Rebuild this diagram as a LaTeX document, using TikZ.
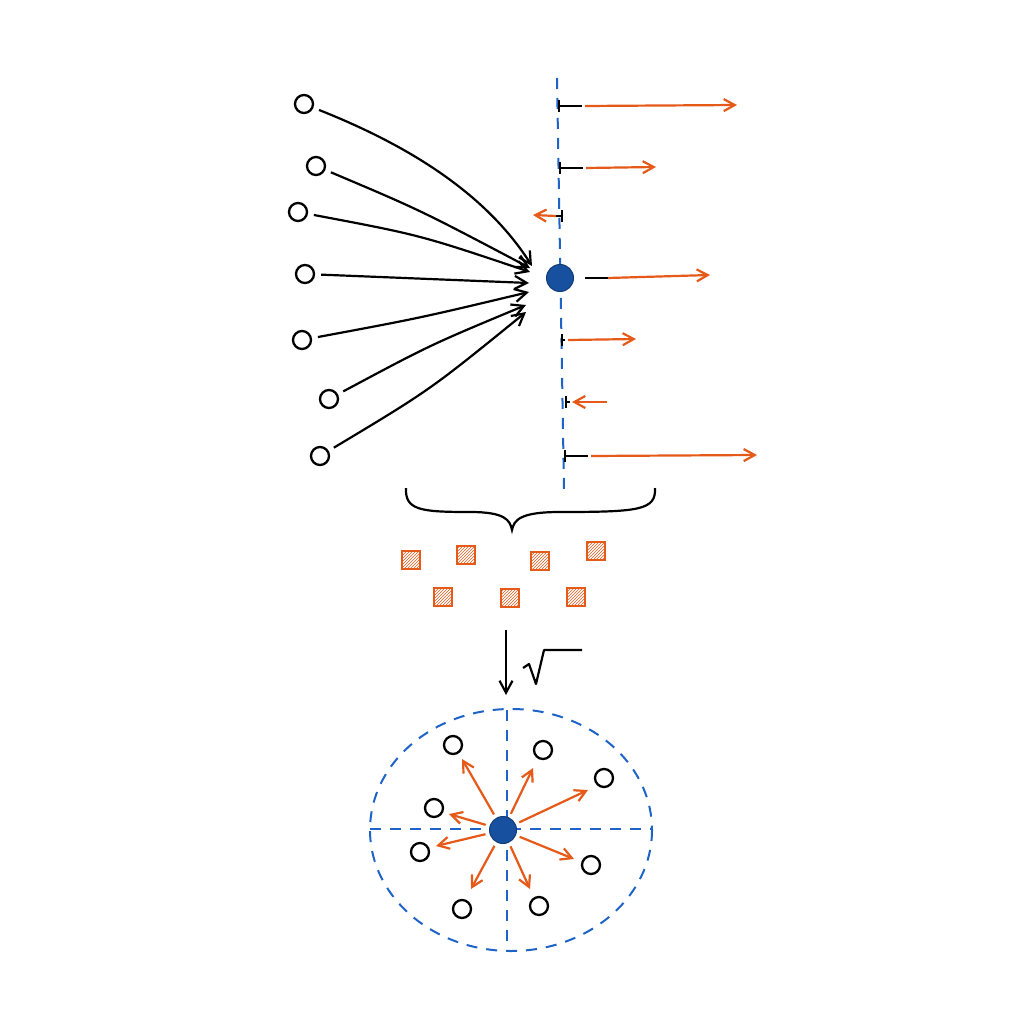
\documentclass[tikz,border=0pt]{standalone}
\usetikzlibrary{arrows.meta,patterns,decorations.pathreplacing}
\begin{document}
\begin{tikzpicture}[x=1pt,y=-1pt,
  hol/.style={circle,draw=black,line width=2.3pt,minimum size=18pt,inner sep=0},
  bdot/.style={circle,draw=bluec!60!black,line width=1pt,minimum size=27pt,inner sep=0},
  blk/.style={-{Straight Barb[length=12pt,width=13pt]},line width=2.2pt,shorten <=6pt},
  org/.style={-{Straight Barb[length=11pt,width=12pt]},line width=2.2pt,draw=orangec},
  tk/.style={line width=2.2pt},
  dsh/.style={draw=bluec,line width=2pt,dash pattern=on 11pt off 9pt},
  sq/.style={draw=orangec,line width=2pt,pattern=north east lines,pattern color=orangec,minimum size=18pt,inner sep=0}]
\definecolor{orangec}{RGB}{230,90,25}
\definecolor{bluec}{RGB}{30,100,200}
\useasboundingbox (0,0) rectangle (1024,1024);
\fill[white] (0,0) rectangle (1024,1024);
% top part
\draw[dsh] (557,78) -- (564,490);
\node[bdot,fill=bluec!80!black] (B) at (560,278) {};
\foreach \n/\x/\y in {a/304/104,b/316/166,c/298/212,d/305/274,e/302/340,f/329/399,g/320/456}
  \node[hol] (\n) at (\x,\y) {};
\coordinate (ta) at (532,266);\coordinate (tb) at (530,268);\coordinate (tc) at (530,272);
\coordinate (td) at (529,283);\coordinate (te) at (529,292);\coordinate (tf) at (526,305);\coordinate (tg) at (526,312);
\draw[blk] (a) .. controls (420,150) and (490,200) .. (ta);
\draw[blk] (b) .. controls (420,210) .. (tb);
\draw[blk] (c) .. controls (420,235) .. (tc);
\draw[blk] (d) -- (td);
\draw[blk] (e) .. controls (420,318) .. (te);
\draw[blk] (f) .. controls (430,345) .. (tf);
\draw[blk] (g) .. controls (430,390) .. (tg);
% ticks and orange arrows
\foreach \y/\xa/\xb/\xe in {106/559/582/737,168/560/583/656,340/562/565/636,456/565/588/757}{
  \draw[tk] (\xa,\y-6) -- (\xa,\y+6);
  \draw[tk] (\xa,\y) -- (\xb,\y);
  \coordinate (s\y) at (\xb+3,\y); \coordinate (e\y) at (\xe,\y-1);
  \draw[org] (s\y) -- (e\y);}
\draw[tk] (562,210) -- (562,222); \draw[tk] (556,216)--(562,216);
\coordinate (s216) at (556,216);\coordinate (e216) at (533,215);\draw[org] (s216) -- (e216);
\draw[tk] (566,396) -- (566,408); \draw[tk] (566,402)--(570,402);
\coordinate (s402) at (607,402);\coordinate (e402) at (572,402);\draw[org] (s402) -- (e402);
\coordinate (s278) at (585,278);\coordinate (m278) at (608,278);\coordinate (e278) at (710,275);
\draw[tk] (s278) -- (m278); \draw[org] (m278) -- (e278);
% brace
\draw[line width=2.2pt] (406,488) .. controls (405,510) and (420,512) .. (470,512) .. controls (505,512) and (510,520) .. (512,530)
  .. controls (514,520) and (520,512) .. (560,512) .. controls (640,512) and (656,510) .. (655,488);
% squares
\foreach \n/\x/\y in {q1/411/560,q2/466/555,q3/540/561,q4/596/551,q5/443/597,q6/510/598,q7/576/597}
  \node[sq] (\n) at (\x,\y) {};
\coordinate (d1) at (506,630);\coordinate (d2) at (506,695);
\draw[blk,shorten <=0pt] (d1) -- (d2);
\draw[line width=2.2pt,line join=round] (523,668) -- (529,664) -- (536,684) -- (544,650) -- (582,650);
% bottom circle
\draw[dsh] (511,830) circle[x radius=141,y radius=121];
\draw[dsh] (370,829) -- (652,829);
\draw[dsh] (507,710) -- (507,950);
\node[bdot,fill=bluec!80!black] (C) at (503,830) {};
\foreach \n/\x/\y/\ex/\ey in {p1/453/745/462/759,p2/543/750/533/768,p3/604/778/588/790,p4/434/808/449/814,p5/420/852/436/846,p6/591/865/574/859,p7/462/909/471/889,p8/539/906/530/889}{
  \node[hol] (\n) at (\x,\y) {};
  \coordinate (a\n) at (\ex,\ey);
  \draw[org,shorten <=4pt] (C) -- (a\n);}
\end{tikzpicture}
\end{document}
